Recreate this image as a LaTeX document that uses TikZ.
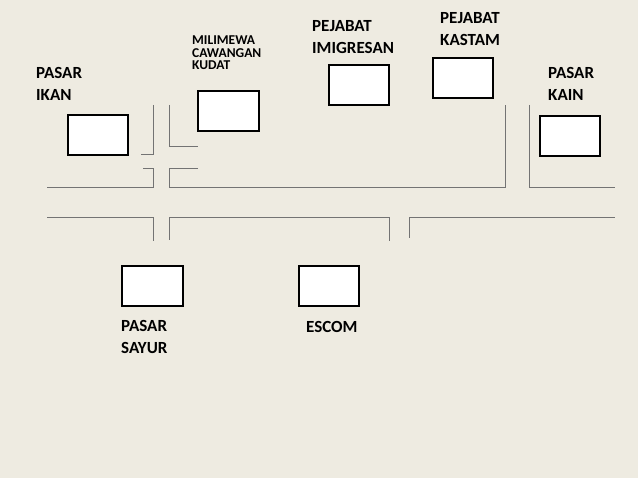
\documentclass[tikz,border=0pt]{standalone}
\usepackage{fontspec}
\setmainfont{Carlito}
\begin{document}
\begin{tikzpicture}[x=1pt,y=-1pt,
  bld/.style={draw=black,line width=1.6pt,fill=white},
  road/.style={draw=black!55,line width=1pt},
  lab/.style={anchor=north west,inner sep=0pt,align=left,font=\fontsize{17}{22}\selectfont\bfseries},
  slab/.style={anchor=north west,inner sep=0pt,align=left,font=\fontsize{13.5}{12.5}\selectfont\bfseries}]
\fill[fill={rgb,255:red,238;green,235;blue,225}] (0,0) rectangle (638,478);
\useasboundingbox (0,0) rectangle (638,478);
% buildings
\node[bld,minimum width=60pt,minimum height=40pt,inner sep=0pt] (ikan) at (98,135) {};
\node[bld,minimum width=61pt,minimum height=40pt,inner sep=0pt] (mili) at (228.5,111) {};
\node[bld,minimum width=60pt,minimum height=40pt,inner sep=0pt] (imi) at (359,85) {};
\node[bld,minimum width=60pt,minimum height=40pt,inner sep=0pt] (kas) at (463,78) {};
\node[bld,minimum width=60pt,minimum height=40pt,inner sep=0pt] (kain) at (570,136) {};
\node[bld,minimum width=61pt,minimum height=40pt,inner sep=0pt] (sayur) at (152.5,286) {};
\node[bld,minimum width=60pt,minimum height=40pt,inner sep=0pt] (escom) at (329,286) {};
% labels
\node[lab] (tikan) at (36,67) {PASAR\\IKAN};
\node[slab] (tmili) at (192,36) {MILIMEWA\\CAWANGAN\\KUDAT};
\node[lab] (timi) at (312,20) {PEJABAT\\IMIGRESAN};
\node[lab] (tkas) at (440,12) {PEJABAT\\KASTAM};
\node[lab] (tkain) at (548,67) {PASAR\\KAIN};
\node[lab] (tsayur) at (121,320) {PASAR\\SAYUR};
\node[lab] (tescom) at (306,321) {ESCOM};
% roads
\draw[road] (153,105) -- (153,155) -- (141,155);
\draw[road] (169,105) -- (169,147) -- (198,147);
\draw[road] (143,169) -- (153,169) -- (153,188) -- (47,188);
\draw[road] (198,169) -- (169,169) -- (169,188) -- (505,188) -- (505,105);
\draw[road] (529,105) -- (529,188) -- (615,188);
\draw[road] (47,218) -- (153,218) -- (153,241);
\draw[road] (169,240) -- (169,218) -- (389,218) -- (389,241);
\draw[road] (409,238) -- (409,218) -- (615,218);
\end{tikzpicture}
\end{document}
